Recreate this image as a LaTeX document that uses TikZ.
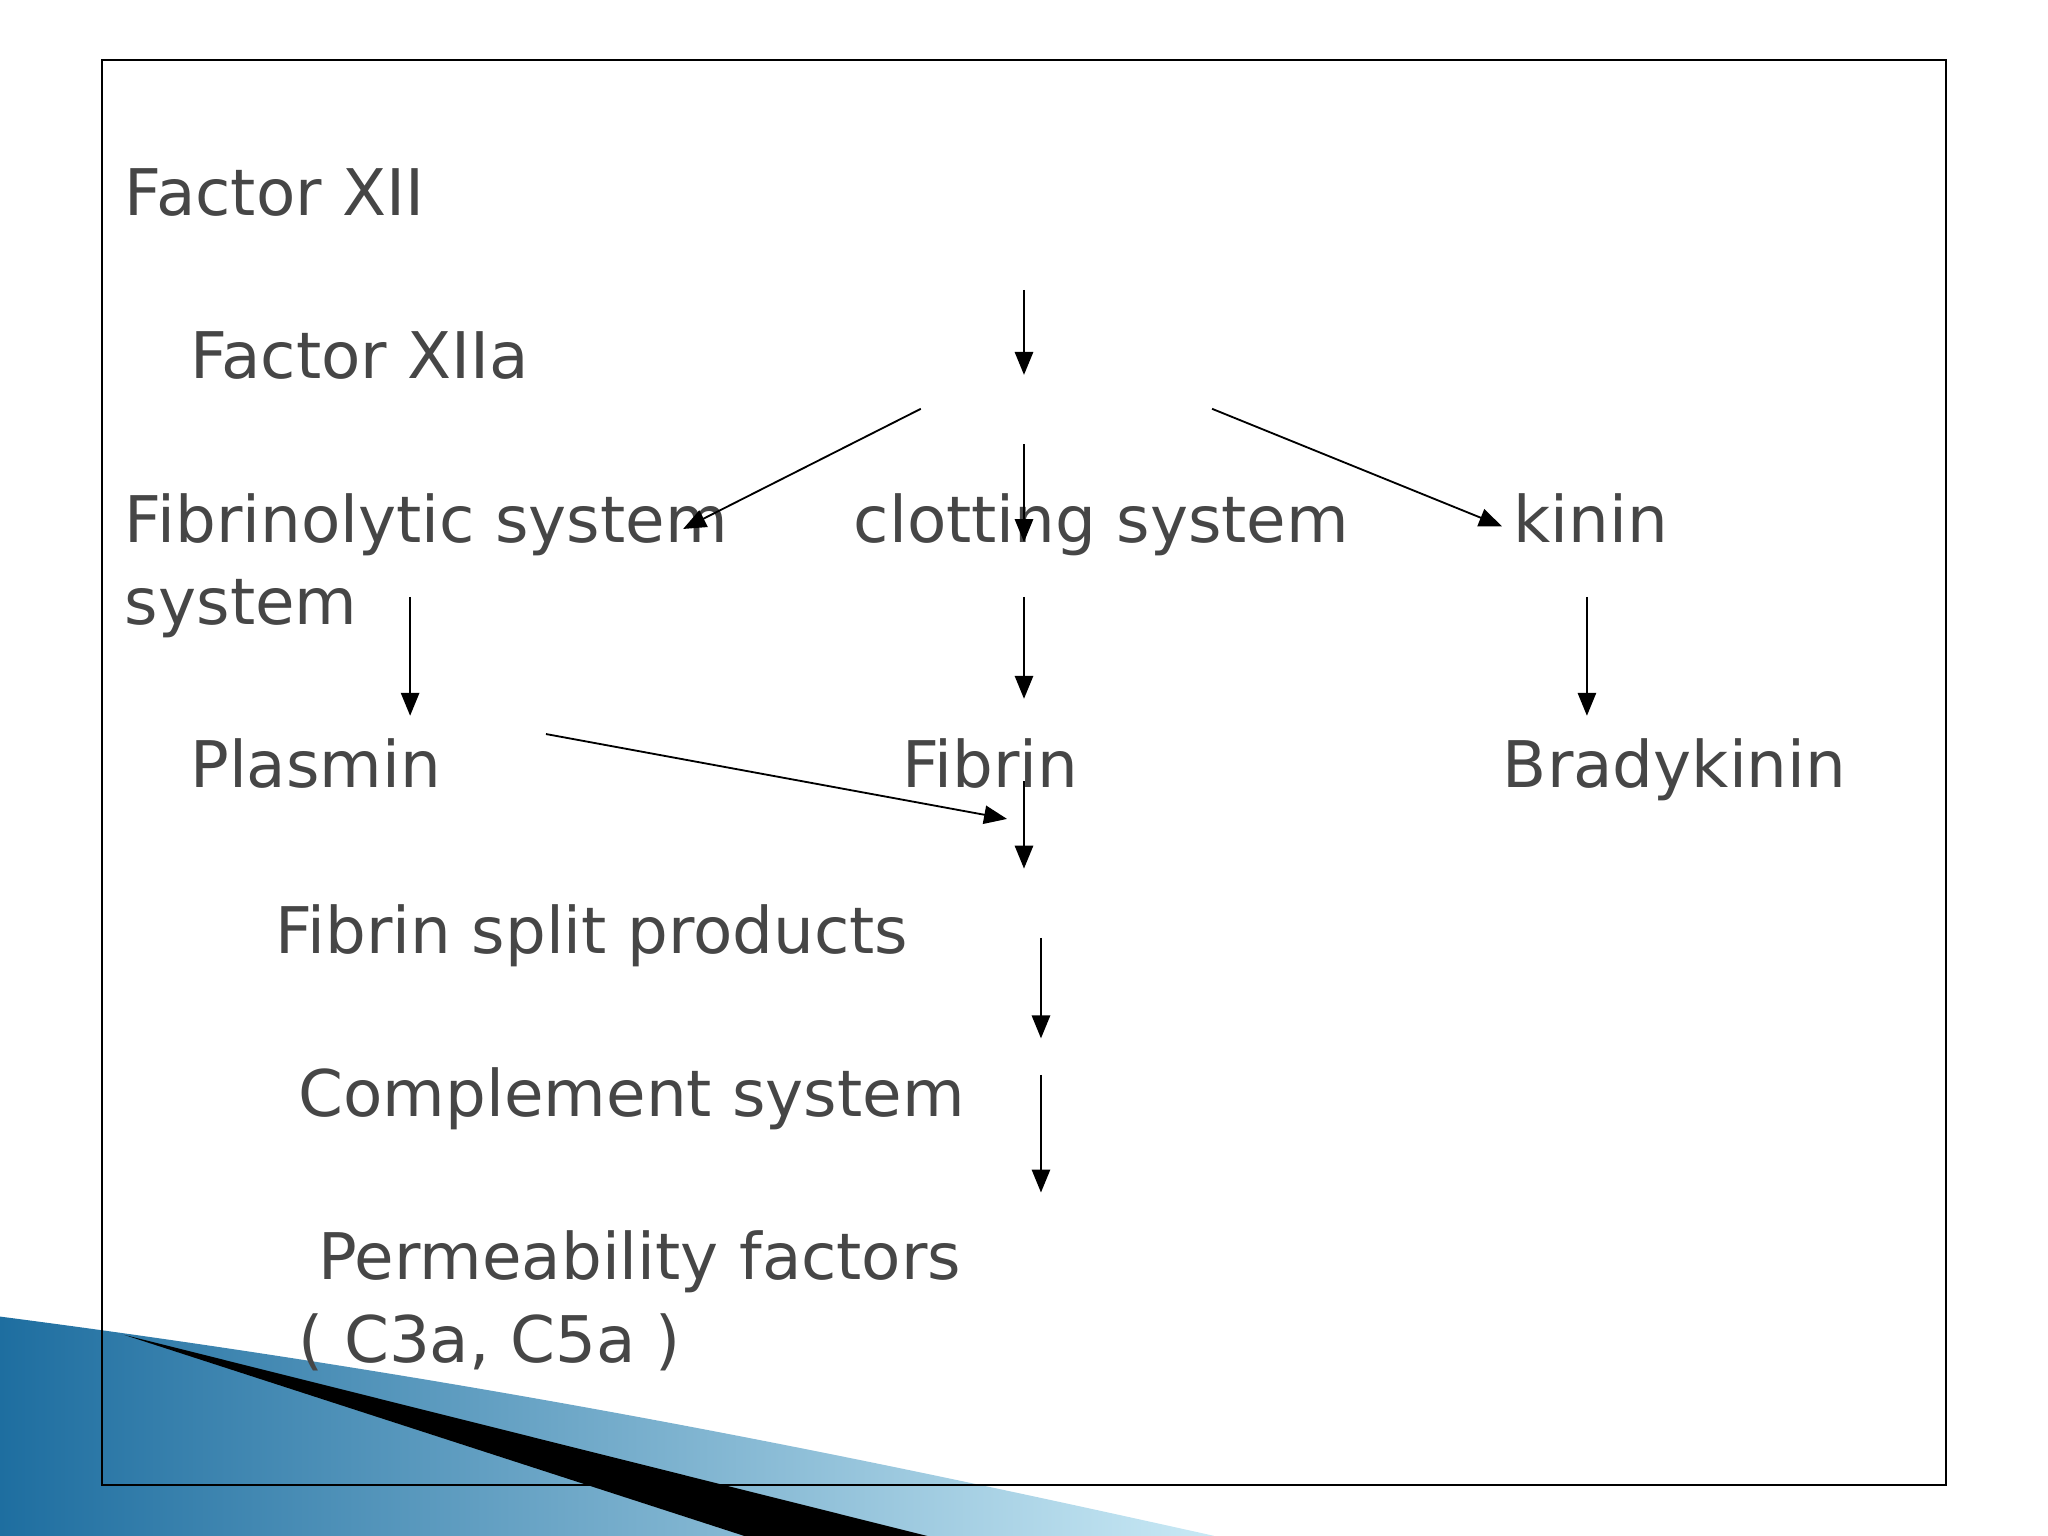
\documentclass[tikz,border=0pt]{standalone}
\usepackage{fontspec}
\setmainfont{DejaVu Sans}
\usetikzlibrary{arrows.meta}
\definecolor{txtgray}{RGB}{70,70,70}
\definecolor{sky}{RGB}{120,200,230}
\definecolor{deep}{RGB}{30,110,160}
\tikzset{
  lbl/.style={anchor=base west,inner sep=0pt,text=txtgray,font=\fontsize{14}{19}\selectfont},
  flow/.style={-{Triangle[length=5pt,width=4pt]},thin}
}
\begin{document}
\begin{tikzpicture}[x=0.01cm,y=-0.01cm]
\useasboundingbox (0,0) rectangle (1568,1176);
% decorative corner
\shade[left color=deep,right color=sky!40] (0,1008) .. controls (400,1060) and (700,1125) .. (930,1176) -- (0,1176) -- cycle;
\fill[black] (95,1022) -- (710,1176) -- (570,1176) -- cycle;
\draw[thin] (78,46) rectangle (1490,1137);
% texts
\node[lbl] (f12) at (95,165) {Factor XII};
\node[lbl] (f12a) at (145,290) {Factor XIIa};
\node[lbl] (fib) at (95,415) {Fibrinolytic system};
\node[lbl] (fib2) at (95,478) {system};
\node[lbl] (clot) at (653,415) {clotting system};
\node[lbl] (kin) at (1158,415) {kinin};
\node[lbl] (plas) at (145,603) {Plasmin};
\node[lbl] (fibrin) at (690,603) {Fibrin};
\node[lbl] (brady) at (1150,603) {Bradykinin};
\node[lbl] (fsp) at (210,730) {Fibrin split products};
\node[lbl] (comp) at (228,855) {Complement system};
\node[lbl] (perm) at (243,980) {Permeability factors};
\node[lbl] (c3a) at (228,1043) {( C3a, C5a )};
% arrow ends
\coordinate (a1) at (784,222); \coordinate (b1) at (784,287);
\coordinate (a2) at (705,313); \coordinate (b2) at (523,405);
\coordinate (a3) at (784,340); \coordinate (b3) at (784,415);
\coordinate (a4) at (928,313); \coordinate (b4) at (1150,403);
\coordinate (a5) at (314,457); \coordinate (b5) at (314,548);
\coordinate (a6) at (784,457); \coordinate (b6) at (784,535);
\coordinate (a7) at (1215,457); \coordinate (b7) at (1215,548);
\coordinate (a8) at (418,562); \coordinate (b8) at (771,627);
\coordinate (a9) at (784,598); \coordinate (b9) at (784,665);
\coordinate (a10) at (797,718); \coordinate (b10) at (797,795);
\coordinate (a11) at (797,823); \coordinate (b11) at (797,913);
\foreach \i in {1,...,11}
  \draw[flow] (a\i) -- (b\i);
\end{tikzpicture}
\end{document}
